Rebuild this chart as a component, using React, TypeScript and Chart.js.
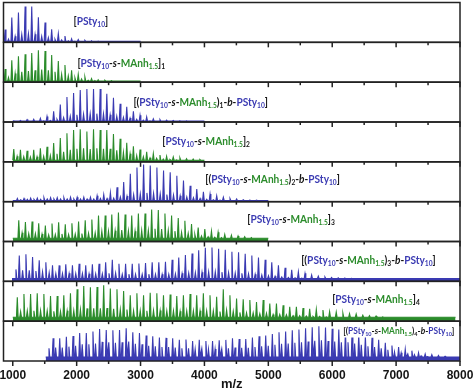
import React, { useEffect, useRef } from 'react';
import { Chart, registerables } from 'chart.js';
Chart.register(...registerables);

// ---------- axis ----------
const X_MIN = 855;
const X_MAX = 8000;
const xTickValues = [1000, 2000, 3000, 4000, 5000, 6000, 7000, 8000];
const xMinorTickValues = [1000, 1500, 2000, 2500, 3000, 3500, 4000, 4500, 5000, 5500, 6000, 6500, 7000, 7500, 8000];
const X_TITLE = 'm/z';

// ---------- spectra (relative intensity %, one value per styrene-spaced peak) ----------
const PEAK_SPACING = 104;
const PEAK_HALF_WIDTH = 13;

const p1Major = [32, 62, 75, 90, 90, 63, 50, 33, 22, 16, 9, 7, 5, 4, 3];
const p1Minor = [8, 15, 20, 22, 20, 15, 12, 8, 6, 4, 3, 2, 0, 0, 0];

const p2Major = [33, 55, 65, 70, 73, 80, 78, 68, 53, 43, 30, 20, 13, 9, 6, 5, 4, 3];
const p2Minor = [12, 22, 26, 28, 30, 32, 30, 26, 20, 16, 11, 8, 5, 4, 3, 2, 0, 0];

const p3Major = [3, 4, 6, 7, 9, 14, 27, 44, 63, 73, 80, 83, 83, 83, 71, 61, 46, 38, 27, 17, 13, 8, 6, 5, 4, 3, 3, 2];
const p3Minor = [1, 1, 2, 2, 3, 4, 7, 11, 15, 18, 20, 21, 21, 21, 18, 15, 12, 10, 7, 5, 3, 2, 2, 1, 1, 1, 0, 0];

const p4Major = [32, 30, 28, 30, 34, 38, 47, 60, 72, 80, 82, 76, 82, 80, 80, 70, 58, 48, 39, 31, 25, 21, 17, 14, 12, 10, 8, 7, 6, 5];
const p4Minor = [14, 13, 12, 13, 14, 16, 20, 25, 30, 33, 34, 32, 34, 33, 33, 29, 24, 20, 16, 13, 10, 9, 7, 6, 5, 4, 3, 3, 2, 2];

const p5Major = [8, 8, 9, 9, 10, 10, 10, 10, 11, 11, 11, 11, 15, 18, 23, 36, 49, 70, 86, 93, 91, 86, 78, 74, 65, 53, 40, 32, 25, 19, 15, 11, 8, 7, 5, 4, 4, 3];
const p5Minor = [5, 6, 6, 6, 7, 7, 7, 7, 7, 7, 7, 7, 8, 8, 9, 12, 14, 18, 20, 22, 21, 20, 18, 17, 15, 12, 10, 8, 6, 5, 4, 3, 3, 2, 2, 2, 1, 1];

const p6Major = [53, 49, 50, 46, 40, 45, 48, 43, 46, 50, 53, 55, 65, 65, 68, 73, 68, 65, 70, 70, 80, 79, 70, 65, 59, 52, 44, 35, 31, 26, 23, 18, 16, 14, 12, 10, 8, 7];
const p6Minor = [22, 20, 20, 19, 17, 18, 19, 18, 19, 20, 21, 22, 26, 26, 27, 29, 27, 26, 28, 28, 32, 31, 28, 26, 23, 21, 18, 14, 12, 11, 10, 8, 7, 6, 5, 4, 4, 3];

const p7Major = [79, 65, 68, 61, 53, 48, 40, 40, 43, 40, 44, 40, 43, 44, 48, 54, 44, 44, 44, 45, 46, 48, 48, 49, 54, 60, 66, 70, 78, 84, 85, 82, 79, 74, 73, 69, 65, 60, 54, 48, 40, 34, 29, 24, 20, 16, 13, 11, 10, 9, 8, 7.5, 7, 6.5, 6, 6, 5.5, 5.5, 5, 5, 5, 5, 4.5, 4.5, 4.5, 4.5, 4, 4];
const p7Minor = [30, 28, 28, 26, 24, 22, 20, 20, 20, 20, 20, 19, 19, 19, 20, 21, 18, 18, 18, 18, 18, 18, 18, 18, 19, 20, 21, 22, 23, 24, 24, 23, 22, 21, 20, 19, 18, 16, 14, 13, 11, 10, 9, 8, 7, 6, 6, 5, 5, 5, 4.5, 4.5, 4, 4, 4, 4, 4, 4, 4, 4, 4, 4, 4, 4, 4, 4, 3.5, 3.5];

const p8Major = [60, 68, 68, 70, 68, 63, 63, 65, 70, 80, 88, 85, 86, 90, 82, 80, 76, 65, 70, 65, 71, 70, 65, 67, 63, 65, 68, 65, 70, 65, 61, 80, 65, 57, 55, 53, 48, 53, 44, 44, 40, 36, 36, 33, 31, 30, 28, 24, 23, 20, 19, 18, 15, 14, 13, 11, 10, 9, 8, 7.5, 7.5, 7, 6.5, 6, 6, 5.5, 5];
const p8Minor = [24, 26, 26, 27, 26, 25, 25, 26, 27, 30, 32, 32, 32, 33, 31, 30, 29, 26, 27, 26, 27, 27, 26, 26, 25, 26, 26, 26, 26, 26, 24, 28, 25, 22, 21, 21, 19, 20, 17, 17, 16, 14, 14, 13, 12, 12, 11, 10, 9, 8, 8, 7, 6, 6, 5, 5, 4, 4, 4, 3, 3, 3, 3, 3, 3, 3, 2];

const p9Major = [53, 57, 57, 61, 63, 70, 70, 74, 80, 78, 77, 78, 82, 72, 70, 64, 62, 59, 58, 57, 53, 54, 50, 53, 50, 50, 52, 53, 57, 55, 55, 59, 62, 64, 68, 72, 74, 77, 79, 82, 85, 87, 84, 81, 79, 78, 74, 68, 62, 59, 53, 46, 39, 35, 30, 26, 21, 18, 16, 14, 12, 10, 8];
const p9Minor = [32, 34, 34, 36, 38, 42, 42, 44, 48, 47, 46, 47, 49, 43, 42, 38, 37, 35, 35, 34, 32, 32, 30, 32, 30, 30, 31, 32, 34, 33, 33, 35, 37, 38, 41, 43, 44, 46, 47, 49, 51, 52, 50, 49, 47, 47, 44, 41, 37, 35, 32, 28, 23, 21, 18, 16, 13, 11, 10, 8, 7, 6, 5];

const panelMajors = [p1Major, p2Major, p3Major, p4Major, p5Major, p6Major, p7Major, p8Major, p9Major];
const panelMinors = [p1Minor, p2Minor, p3Minor, p4Minor, p5Minor, p6Minor, p7Minor, p8Minor, p9Minor];
const panelFirstPeak = [881, 881, 1016, 1016, 1072, 1094, 998, 1071, 1527];
const panelFrom = [855, 855, 1000, 1000, 1000, 1000, 988, 1000, 1515];
const panelTo = [3000, 3000, 4000, 4000, 5000, 5000, 8000, 7930, 8000];
const panelFloor = [2.5, 3, 2.5, 4, 3, 8, 7, 10, 10];
const panelMinorOffset = [52, 52, 52, 52, 52, 52, 52, 52, 40];

// ---------- labels ----------
const labelKinds = ['homo', 'stat', 'block', 'stat', 'block', 'stat', 'block', 'stat', 'block'];
const labelIndex = ['', '1', '1', '2', '2', '3', '3', '4', '4'];
const labelMz = [1950, 2012, 2888, 3341, 4013, 4670, 5514, 5999, 6171];
const labelYPct = [52, 47, 50, 51, 55, 55, 52, 54, 75];

const BLUE = '#3a3ab2';
const GREEN = '#2b8c2b';
const BLACK = '#151515';
const FRAME = '#222222';
const panelColors = [BLUE, GREEN, BLUE, GREEN, BLUE, GREEN, BLUE, GREEN, BLUE];

type Seg = { t: string; c: string; sub?: boolean; it?: boolean };

function labelSegments(kind: string, n: string): Seg[] {
  const psty: Seg[] = [{ t: 'PSty', c: BLUE }, { t: '10', c: BLUE, sub: true }];
  const manh: Seg[] = [{ t: 'MAnh', c: GREEN }, { t: '1.5', c: GREEN, sub: true }];
  if (kind === 'homo') return [{ t: '[', c: BLACK }, ...psty, { t: ']', c: BLACK }];
  if (kind === 'stat')
    return [
      { t: '[', c: BLACK }, ...psty, { t: '-', c: BLACK }, { t: 's', c: BLACK, it: true }, { t: '-', c: BLACK },
      ...manh, { t: ']', c: BLACK }, { t: n, c: BLACK, sub: true },
    ];
  return [
    { t: '[(', c: BLACK }, ...psty, { t: '-', c: BLACK }, { t: 's', c: BLACK, it: true }, { t: '-', c: BLACK },
    ...manh, { t: ')', c: BLACK }, { t: n, c: BLACK, sub: true }, { t: '-', c: BLACK }, { t: 'b', c: BLACK, it: true },
    { t: '-', c: BLACK }, ...psty, { t: ']', c: BLACK },
  ];
}

function buildPoints(i: number) {
  const peaks: [number, number][] = [];
  panelMajors[i].forEach((h, k) => {
    const c = panelFirstPeak[i] + k * PEAK_SPACING;
    peaks.push([c, h]);
    const m = panelMinors[i][k];
    if (m) peaks.push([c + panelMinorOffset[i], m]);
  });
  peaks.sort((a, b) => a[0] - b[0]);
  const floor = panelFloor[i];
  const pts: { x: number; y: number }[] = [{ x: panelFrom[i], y: floor }];
  for (const [c, h] of peaks) {
    if (c - PEAK_HALF_WIDTH < panelFrom[i] || c + PEAK_HALF_WIDTH > panelTo[i]) continue;
    pts.push({ x: c - PEAK_HALF_WIDTH, y: floor }, { x: c, y: Math.max(h, floor) }, { x: c + PEAK_HALF_WIDTH, y: floor });
  }
  pts.push({ x: panelTo[i], y: floor });
  return pts;
}

const LABEL_FONT = 'Lato, "Liberation Sans", sans-serif';
const LABEL_SQUEEZE = 0.92;

function drawRich(ctx: CanvasRenderingContext2D, segs: Seg[], x: number, y: number, size: number, bg: boolean) {
  const fontOf = (s: Seg) => `${s.it ? 'italic ' : ''}bold ${s.sub ? size * 0.66 : size}px ${LABEL_FONT}`;
  let total = 0;
  for (const s of segs) {
    ctx.font = fontOf(s);
    total += ctx.measureText(s.t).width;
  }
  ctx.save();
  ctx.translate(x, y);
  ctx.scale(LABEL_SQUEEZE, 1);
  if (bg) {
    ctx.fillStyle = '#ffffff';
    ctx.fillRect(-1, -size * 0.6, total + 2, size * 1.3);
  }
  let cx = 0;
  ctx.textBaseline = 'middle';
  ctx.textAlign = 'left';
  for (const s of segs) {
    ctx.font = fontOf(s);
    ctx.fillStyle = s.c;
    ctx.fillText(s.t, cx, s.sub ? size * 0.3 : 0);
    cx += ctx.measureText(s.t).width;
  }
  ctx.restore();
}

const overlayPlugin = {
  id: 'panelOverlay',
  afterDatasetsDraw(chart: any) {
    const { ctx, chartArea, scales } = chart;
    const xs = scales.x;
    ctx.save();
    panelMajors.forEach((_, i) => {
      const ys = scales['y' + i];
      const x = xs.getPixelForValue(labelMz[i]);
      const y = ys.getPixelForValue(labelYPct[i]);
      drawRich(ctx, labelSegments(labelKinds[i], labelIndex[i]), x, y, i === 8 ? 9.1 : 11, i === 8);
    });
    ctx.strokeStyle = FRAME;
    ctx.lineWidth = 1.5;
    panelMajors.forEach((_, i) => {
      const ys = scales['y' + i];
      ctx.strokeRect(chartArea.left, ys.top, chartArea.right - chartArea.left, ys.bottom - ys.top);
      for (const v of xMinorTickValues) {
        const px = xs.getPixelForValue(v);
        const len = v % 1000 === 0 ? 5 : 3;
        ctx.beginPath();
        ctx.moveTo(px, ys.bottom);
        ctx.lineTo(px, ys.bottom + len);
        ctx.stroke();
      }
    });
    ctx.restore();
  },
};

export default function App() {
  const ref = useRef<HTMLCanvasElement | null>(null);
  useEffect(() => {
    let chart: Chart | null = null;
    let cancelled = false;
    const make = () => {
      if (cancelled || !ref.current) return;
      const datasets = panelMajors.map((_, i) => ({
        data: buildPoints(i),
        yAxisID: 'y' + i,
        borderColor: panelColors[i],
        backgroundColor: panelColors[i],
        borderWidth: 1.1,
        pointRadius: 0,
        tension: 0,
        fill: 'origin',
      }));
      const scales: any = {
        x: {
          type: 'linear',
          position: 'bottom',
          min: X_MIN,
          max: X_MAX,
          afterBuildTicks: (axis: any) => {
            axis.ticks = xTickValues.map((v) => ({ value: v }));
          },
          afterFit: (axis: any) => {
            axis.height = 29;
            axis.paddingLeft = 0;
            axis.paddingRight = 0;
          },
          ticks: {
            autoSkip: false,
            maxRotation: 0,
            padding: 7,
            color: BLACK,
            font: { family: '"Liberation Sans", Arial, sans-serif', size: 12, weight: 'bold' },
            callback: (v: any) => String(v),
          },
          grid: { display: false, drawTicks: false },
          border: { display: false },
          title: {
            display: true,
            text: X_TITLE,
            color: BLACK,
            font: { family: '"Liberation Sans", Arial, sans-serif', size: 13, weight: 'bold' },
            padding: { top: 0, bottom: -2 },
          },
        },
      };
      // stacked panel axes: defined bottom-first so that panel 0 ends up on top
      for (let i = panelMajors.length - 1; i >= 0; i--) {
        scales['y' + i] = {
          type: 'linear',
          position: 'left',
          stack: 'panels',
          stackWeight: 1,
          min: 0,
          max: 100,
          ticks: { display: false },
          grid: { display: false, drawTicks: false },
          border: { display: false },
          afterFit: (axis: any) => {
            axis.width = 0;
            axis.paddingTop = 0;
            axis.paddingBottom = 0;
          },
        };
      }
      chart = new Chart(ref.current, {
        type: 'line',
        data: { datasets } as any,
        options: {
          animation: false,
          responsive: true,
          maintainAspectRatio: false,
          layout: { padding: { left: 3.5, right: 14, top: 2.5, bottom: 0 } },
          plugins: { legend: { display: false }, tooltip: { enabled: false } },
          scales,
        } as any,
        plugins: [overlayPlugin],
      });
    };
    const fonts = (document as any).fonts;
    if (fonts && fonts.load) {
      Promise.all([
        fonts.load(`bold 11px Lato`),
        fonts.load(`italic bold 11px Lato`),
        fonts.load(`bold 12px "Liberation Sans"`),
      ]).then(make, make);
    } else make();
    return () => {
      cancelled = true;
      if (chart) chart.destroy();
    };
  }, []);
  return (
    <div style={{ position: 'absolute', left: 0, top: 0, width: 474, height: 390 }}>
      <canvas ref={ref} />
    </div>
  );
}
